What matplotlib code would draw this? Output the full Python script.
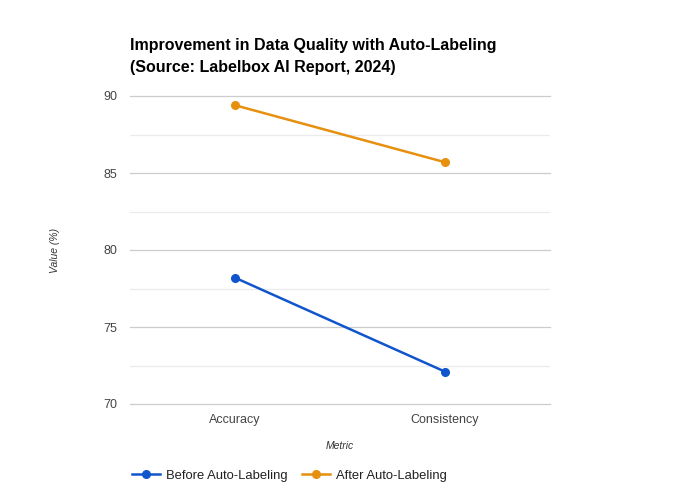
import matplotlib.pyplot as plt
from matplotlib.lines import Line2D

plt.rcParams['font.family'] = ['Liberation Sans', 'DejaVu Sans']

metrics = ["Accuracy", "Consistency"]
before_vals = [78.2, 72.1]
after_vals = [89.4, 85.7]
series_names = ["Before Auto-Labeling", "After Auto-Labeling"]
colors = ["#1155cc", "#e6900e"]

fig = plt.figure(figsize=(6.8, 5.0), dpi=100)
ax = fig.add_axes([130 / 680, 1 - 404 / 500, 420 / 680, 308 / 500])

x = list(range(len(metrics)))
ax.plot(x, before_vals, color=colors[0], lw=1.8, marker="o", ms=5.5, zorder=3)
ax.plot(x, after_vals, color=colors[1], lw=1.8, marker="o", ms=5.5, zorder=3)

ax.set_xlim(-0.5, 1.5)
ax.set_ylim(70, 90)
ax.set_yticks([70, 75, 80, 85, 90])
ax.set_yticks([72.5, 77.5, 82.5, 87.5], minor=True)
ax.set_xticks(x)
ax.set_xticklabels(metrics)
ax.grid(axis="y", which="major", color="#cccccc", lw=0.9)
ax.grid(axis="y", which="minor", color="#ebebeb", lw=0.9)
for gl in ax.get_ygridlines():
    gl.set_clip_on(False)
ax.set_axisbelow(True)
for s in ax.spines.values():
    s.set_visible(False)
ax.tick_params(axis="both", which="both", length=0, labelsize=9, labelcolor="#444444")
ax.tick_params(axis="y", pad=9)
ax.tick_params(axis="x", pad=7)

fig.text(55 / 680, 1 - 250 / 500, "Value (%)", rotation=90, style="italic",
         fontsize=7.5, color="#333333", ha="center", va="center")
fig.text(340 / 680, 1 - 446 / 500, "Metric", style="italic",
         fontsize=7.5, color="#333333", ha="center", va="center")

fig.text(130 / 680, 1 - 38 / 500,
         "Improvement in Data Quality with Auto-Labeling\n(Source: Labelbox AI Report, 2024)",
         fontsize=11.5, fontweight="bold", color="#000000", ha="left", va="top",
         linespacing=1.6)

handles = [Line2D([0], [0], color=c, lw=1.8, marker="o", ms=5.5) for c in colors]
fig.legend(handles, series_names, loc="center left", bbox_to_anchor=(120 / 680, 1 - 476 / 500),
           ncol=2, frameon=False, fontsize=9.4, handlelength=2.2, handletextpad=0.4,
           columnspacing=1.1, labelcolor="#222222")

fig.savefig("out.png", dpi=100)
